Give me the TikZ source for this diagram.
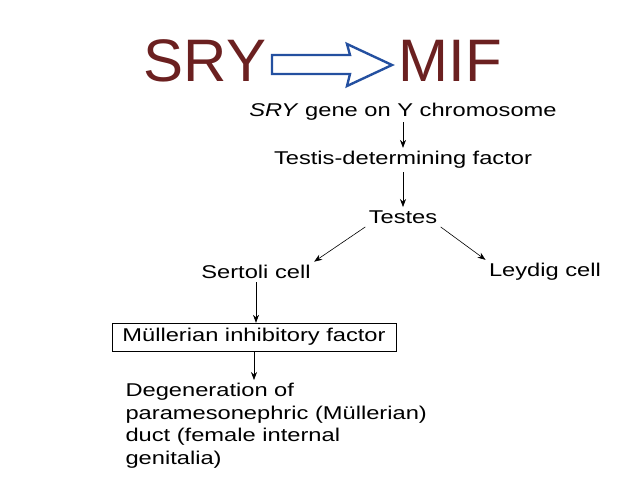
\documentclass[tikz,border=0pt]{standalone}
\usepackage{fontspec}
\setmainfont{Liberation Sans}
\newfontfamily\lblfont[FakeStretch=1.28]{Liberation Sans}
\usetikzlibrary{arrows.meta}
\definecolor{maroon}{HTML}{6B2020}
\definecolor{arrowblue}{HTML}{2450A0}
\begin{document}
\begin{tikzpicture}[x=1pt,y=-1pt,
  lbl/.style={font=\lblfont\fontsize{18.5}{22.5}\selectfont},
  big/.style={font=\fontsize{60}{60}\selectfont,text=maroon},
  link/.style={-{Stealth[length=8pt,width=6pt]},semithick}]
	\useasboundingbox (0,0) rectangle (638,479);
	\node[big] (sry) at (205,61) {SRY};
	\node[big] (mif) at (450,61) {MIF};
	\draw[arrowblue,line width=2.4pt,line join=miter]
	  (272,55) -- (350,55) -- (347,44) -- (392,65) -- (347,86) -- (350,74) -- (272,74) -- cycle;
	\node[lbl] (gene) at (403,112) {\textit{SRY} gene on Y chromosome};
	\node[lbl] (tdf) at (403,160) {Testis-determining factor};
	\node[lbl] (testes) at (403,217) {Testes};
	\node[lbl] (sertoli) at (256,272) {Sertoli cell};
	\node[lbl] (leydig) at (545,272) {Leydig cell};
	\node[lbl,draw,thin,minimum width=284pt,minimum height=28pt] (mis) at (254,337) {Müllerian inhibitory factor};
	\node[lbl,align=left,anchor=north west] (degen) at (122,380)
	  {Degeneration of\\paramesonephric (Müllerian)\\duct (female internal\\genitalia)};
	\coordinate (ybase) at (403,122);
	\draw[link] (ybase) -- (tdf);
	\draw[link] (tdf) -- (testes);
	\draw[link] (testes.south west) -- (sertoli.north east);
	\draw[link] (testes.south east) -- (leydig.north west);
	\draw[link] (sertoli.south) -- (sertoli.south |- mis.north);
	\draw[link] (mis.south) -- (mis.south |- degen.north);
\end{tikzpicture}
\end{document}
